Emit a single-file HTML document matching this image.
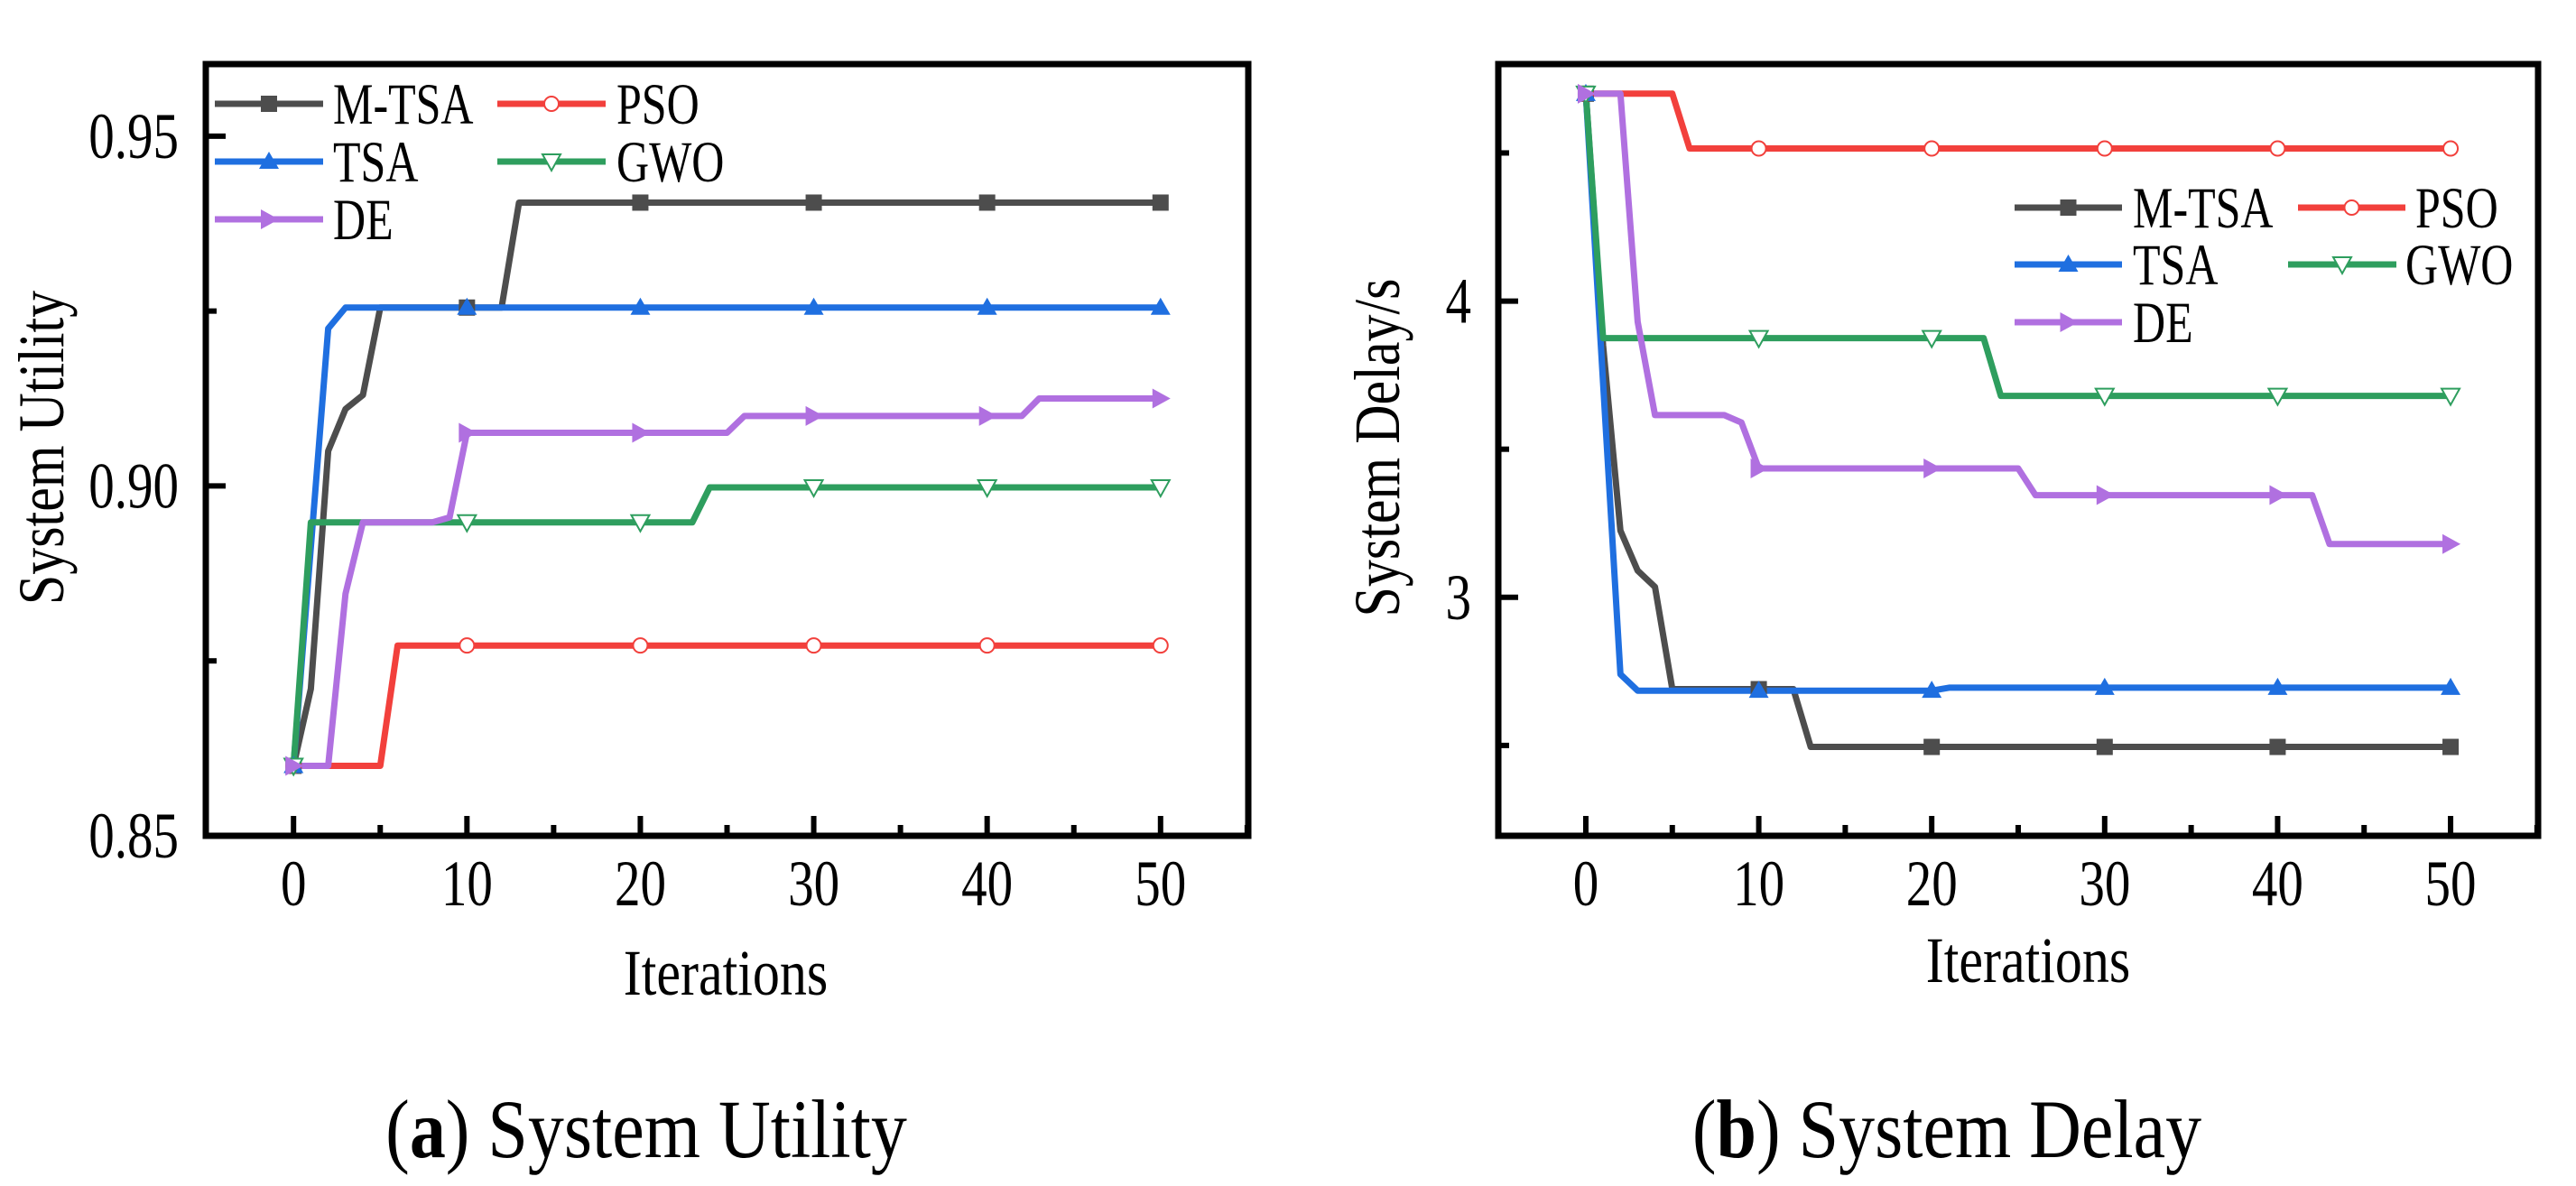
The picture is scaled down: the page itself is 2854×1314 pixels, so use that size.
<!DOCTYPE html>
<html><head><meta charset="utf-8"><style>
html,body{margin:0;padding:0;background:#fff;}
svg{display:block;font-family:"Liberation Serif",serif;}
</style></head><body>
<svg id="fig" width="2854" height="1314" viewBox="0 0 2854 1314" xmlns="http://www.w3.org/2000/svg"></svg>
<script>
const iterations = Array.from({length:51},(_,i)=>i);
const seriesNames = ["M-TSA","PSO","TSA","GWO","DE"];
const utilMTSA = [[0,0.860],[1,0.871],[2,0.905],[3,0.911],[4,0.913],[5,0.9255],[12,0.9255],[13,0.9405],[50,0.9405]];
const utilPSO  = [[0,0.860],[5,0.860],[6,0.8772],[50,0.8772]];
const utilTSA  = [[0,0.860],[2,0.9225],[3,0.9255],[50,0.9255]];
const utilGWO  = [[0,0.860],[1,0.8948],[23,0.8948],[24,0.8998],[50,0.8998]];
const utilDE   = [[0,0.860],[2,0.860],[3,0.8846],[4,0.8948],[8,0.8948],[9,0.8955],[10,0.9076],[25,0.9076],[26,0.910],[42,0.910],[43,0.9125],[50,0.9125]];
const delayMTSA = [[0,4.70],[1,3.85],[2,3.225],[3,3.09],[4,3.035],[5,2.69],[12,2.69],[13,2.495],[50,2.495]];
const delayPSO  = [[0,4.70],[5,4.70],[6,4.515],[50,4.515]];
const delayTSA  = [[0,4.70],[2,2.74],[3,2.685],[20,2.685],[21,2.695],[50,2.695]];
const delayGWO  = [[0,4.70],[1,3.875],[23,3.875],[24,3.68],[50,3.68]];
const delayDE   = [[0,4.70],[2,4.70],[3,3.93],[4,3.615],[8,3.615],[9,3.59],[10,3.435],[25,3.435],[26,3.345],[42,3.345],[43,3.18],[50,3.18]];
const xTicks = [0,10,20,30,40,50];
const utilTicks = [0.85,0.90,0.95];
const utilTickLabels = ["0.85","0.90","0.95"];
const utilMinor = [0.875,0.925];
const delayTicks = [3,4];
const delayTickLabels = ["3","4"];
const delayMinor = [2.5,3.5,4.5];

const NS="http://www.w3.org/2000/svg";
const svg=document.getElementById('fig');
function el(tag,attrs,parent){const e=document.createElementNS(NS,tag);for(const k in attrs)e.setAttribute(k,attrs[k]);(parent||svg).appendChild(e);return e;}
function txt(parent,x,y,size,anchor,sx,sy,rot){
  let tr=`translate(${x},${y})`+(rot?` rotate(${rot})`:'')+` scale(${sx},${sy})`;
  return el('text',{x:0,y:0,'font-size':size,'text-anchor':anchor,transform:tr},parent);
}
const colors={"M-TSA":"#4d4d4d","PSO":"#f2403c","TSA":"#1f6fe0","GWO":"#2e9e5e","DE":"#b070e0"};

function marker(g,name,x,y){
  const c=colors[name];let m;
  if(name==="M-TSA") m=el('rect',{x:x-9,y:y-9,width:18,height:18,fill:c},g);
  else if(name==="PSO") m=el('circle',{cx:x,cy:y,r:8,fill:"#fff",stroke:c,'stroke-width':2},g);
  else if(name==="TSA") m=el('polygon',{points:`${x},${y-11} ${x+11},${y+8} ${x-11},${y+8}`,fill:c},g);
  else if(name==="GWO") m=el('polygon',{points:`${x-10},${y-8} ${x+10},${y-8} ${x},${y+10}`,fill:"#fff",stroke:c,'stroke-width':2},g);
  else m=el('polygon',{points:`${x-9},${y-11} ${x+11},${y} ${x-9},${y+11}`,fill:c},g);
  
  
}

function chart(cfg){
  const g=el('g',{});
  
  
  const L=cfg.left,R=cfg.right,T=71,B=926;
  const xs=v=>L+(v-(-5.06))/(60.12)*(R-L);
  const ys=v=>B-(v-cfg.ymin)/(cfg.ymax-cfg.ymin)*(B-T);
  const data=cfg.data;
  seriesNames.forEach((n,i)=>{
    const pts=data[i];
    const d=pts.map((p,j)=>(j?'L':'M')+xs(p[0]).toFixed(1)+','+ys(p[1]).toFixed(1)).join(' ');
    const p=el('path',{d,fill:'none',stroke:colors[n],'stroke-width':7,'stroke-linejoin':'round'},g);
    
    
  });
  seriesNames.forEach((n,i)=>{
    const pts=data[i];
    const val=it=>{for(let j=0;j<pts.length-1;j++){if(it>=pts[j][0]&&it<=pts[j+1][0]){const t=(it-pts[j][0])/(pts[j+1][0]-pts[j][0]);return pts[j][1]+t*(pts[j+1][1]-pts[j][1]);}}return pts[pts.length-1][1];};
    iterations.filter(it=>it%10===0).forEach(it=>marker(g,n,xs(it),ys(val(it))));
  });
  const f=el('rect',{x:L,y:T,width:R-L,height:B-T,fill:'none',stroke:'#000','stroke-width':7},g);
  
  
  xTicks.forEach(v=>{
    const x=xs(v);
    el('line',{x1:x,y1:B,x2:x,y2:B-22,stroke:'#000','stroke-width':6},g);
    el('line',{x1:xs(v+5),y1:B,x2:xs(v+5),y2:B-12,stroke:'#000','stroke-width':6},g);
    const t=txt(g,x,1003,60,'middle',0.95,1.2);t.textContent=v;
    
    
  });
  cfg.ticks.forEach((v,i)=>{
    const y=ys(v);
    el('line',{x1:L,y1:y,x2:L+22,y2:y,stroke:'#000','stroke-width':6},g);
    const t=txt(g,L-30,y+24,60,'end',0.95,1.2);t.textContent=cfg.labels[i];
    
    
  });
  cfg.minor.forEach(v=>{const y=ys(v);el('line',{x1:L,y1:y,x2:L+12,y2:y,stroke:'#000','stroke-width':6},g);});
  const xt=txt(g,cfg.xtx,cfg.xty,60,'middle',1,1.2);xt.textContent='Iterations';
  
  
  const yt=txt(g,cfg.ytx,496,60,'middle',1,1.2,-90);yt.textContent=cfg.ytitle;
  
  
  const lg=el('g',{},g);
  
  
  cfg.legend.forEach(e=>{
    const n=e[0];
    el('line',{x1:e[1],y1:e[3],x2:e[2],y2:e[3],stroke:colors[n],'stroke-width':7},lg);
    marker(lg,n,(e[1]+e[2])/2,e[3]);
    const t=txt(lg,e[4],e[3]+22,50,'start',1,1.3);t.textContent=n;
    
    
  });
  const c=txt(g,cfg.capx,1282,80,'middle',1,1.15);
  c.innerHTML='(<tspan font-weight="bold">'+cfg.capl+'</tspan>) '+cfg.cap;
  
  
}

chart({name:'utility-chart',left:228,right:1383,ymin:0.85,ymax:0.9603,
  data:[utilMTSA,utilPSO,utilTSA,utilGWO,utilDE],ticks:utilTicks,labels:utilTickLabels,minor:utilMinor,
  xtx:804,xty:1102,ytx:70,ytitle:'System Utility',
  legend:[["M-TSA",238,358,115,369],["PSO",551,671,115,683],["TSA",238,358,179,369],["GWO",551,671,179,683],["DE",238,358,243,369]],
  capx:716,capl:'a',cap:'System Utility'});
chart({name:'delay-chart',left:1660,right:2812,ymin:2.195,ymax:4.80,
  data:[delayMTSA,delayPSO,delayTSA,delayGWO,delayDE],ticks:delayTicks,labels:delayTickLabels,minor:delayMinor,
  xtx:2247,xty:1088,ytx:1550,ytitle:'System Delay/s',
  legend:[["M-TSA",2232,2351,230,2363],["PSO",2546,2665,230,2676],["TSA",2232,2351,293,2363],["GWO",2535,2655,293,2665],["DE",2232,2351,357,2363]],
  capx:2157,capl:'b',cap:'System Delay'});
</script>
</body></html>
